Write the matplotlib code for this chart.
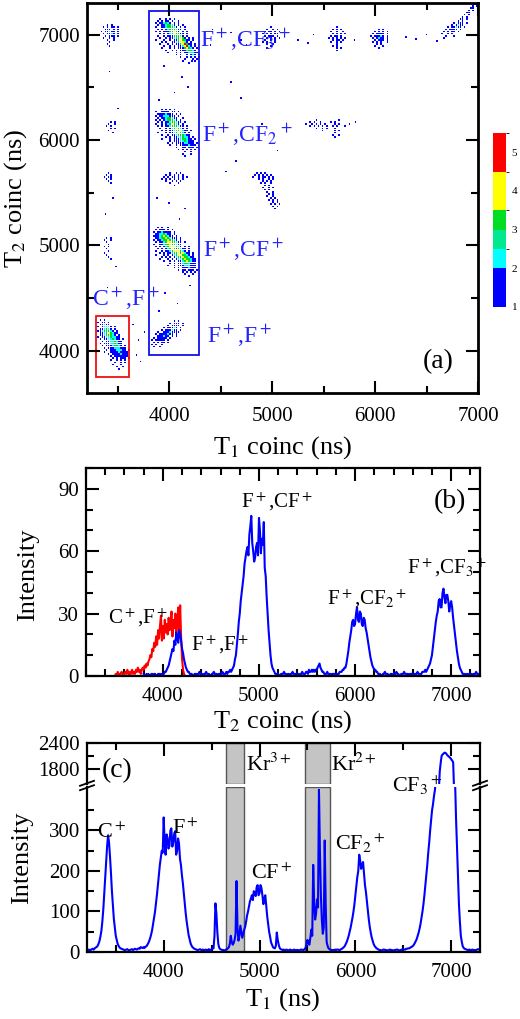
import numpy as np
import matplotlib
matplotlib.use("Agg")
import matplotlib.pyplot as plt
import matplotlib.lines as mlines
from matplotlib.colors import ListedColormap, BoundaryNorm
from matplotlib.patches import Rectangle
from matplotlib.ticker import MultipleLocator, FixedLocator
import matplotlib.colorbar as mcolorbar

plt.rcParams["font.family"] = ["Liberation Serif", "DejaVu Serif"]
plt.rcParams["mathtext.fontset"] = "stix"

W, H = 520, 1019

# ---------------- panel (a): coincidence map ----------------
# each map: top-left corner (T1, T2) in ns, 20 ns cells, '.' empty, digit = counts
MAP_BIN = 20
map_F_CF3 = (3860, 7160, [
    "..1..1.1.1",
    ".1.1.11.1..1",
    "1.112321.1.1",
    ".1.1123321.1.1",
    "1..11233321.1.1",
    ".1.1.12333211.1",
    "1.1.11133431.1.1",
    "..1.1.12343311.1",
    ".1..1.11133321.1",
    "..1..1.11233431.1.1",
    "1...1..1.11343311.1",
    "...1.1..11234421.1",
    "..1...1.1.11345311.1",
    "....1..1.1.1124521.1",
    "...1...1.1.11134321.1",
    ".....1..1.1.11123321",
    "......1...1.1.1122211",
    "..........1.1..1.121.1",
    "............1..1.1.1.1",
    "..............1...1.1",
    ".............1.....1.",
    "................1",
])
map_F_CF2 = (3860, 6300, [
    "...1.1.1.1",
    "1..1111.11.1",
    ".11112111.1.1",
    "1.11222111.1",
    ".1.11233211..1",
    "1.1.1233321.1",
    ".1.1.11233211.1",
    "1..1.1234321.1",
    ".1.1.112333211.1",
    "..1..1.1234321.1",
    "...1.1.112334211.1",
    ".1...1.11234321.1",
    "...1..1.112333211",
    ".....1.1.11223221.1",
    "...1...1.111233211.1",
    ".......1.1112232111",
    "......1.1.111122111.1",
    ".......1..1.11112111",
    "..........1..11.111.1",
    "...........1.1.1.1.1",
    "..............1..1",
    ".............1...1",
    "..............1",
])
map_F_CF = (3840, 5180, [
    "..1.1..1",
    ".1.111.1.1",
    "1.1121111.1",
    ".11223211.1",
    "1112343211.1",
    ".11233432111.1",
    "1.1123343321.1",
    ".1.11234433211.1",
    "1..11233433211",
    ".1.1.123444321.1.1",
    "..1.1.1234353211.1",
    ".1..1.1123444321.1",
    "...1.1.11233434211.1",
    ".1...1.1.123443321.1",
    "....1.1.1.1233433211",
    "...1...1.1.1223433211",
    ".....1..1.1.112343211",
    "........1.1.112332111",
    ".......1..1.111222111",
    "..........1.1.1112111",
    "............1.11.111.1",
    "..............1.1.1.1",
    "...............1...1",
    ".................1",
])
map_F_F = (3820, 4290, [
    "...........1.1",
    ".........1.111.1",
    "........1.1111.1",
    "......1.11121.1",
    ".....1.111211.1",
    "...1..11121111",
    "..1.1111211.1",
    "...111211.1.1",
    ".1.11111.1",
    "1.11111.1",
    ".1.1.11.1",
    "1.1..1",
    ".1..1",
])
map_C_F = (3300, 4300, [
    ".1.1",
    "1.11.1",
    ".11211",
    "1.12221.1",
    ".112321.1",
    "11233321.1",
    ".112343211",
    ".11233321.1",
    "1.112232211",
    ".1.11223211.1",
    "..1.11223211",
    ".1.111223211",
    "..1.11123321.1",
    "...1.111222111",
    "....1.11122211.1",
    "...1..111121111",
    ".....1.11112111",
    "......1.1111111",
    ".......1.1.111.1",
    "......1..1.1.1",
    "........1..1.1",
    ".......1...1",
    ".........1..1",
    "..........1",
])
map_sp1 = (3330, 7100, [
    "...1.1...", ".1.1.11.1", "..111.1.1", "1.11211.1.", ".1.1121.1",
    "..1.111.1", ".1..1.1..", "...1..1.", "....1....", "...1.....", "....1....",
])
map_sp2 = (4900, 7080, [
    "....1....", "..1..1.1.", ".1.11.1.1", "1.1.1.11.", ".1.111.1.",
    "..1.1.1.1", ".1..1.1..", "1.1...1..", "..1..1...", "....1....", "..1......",
])
map_sp3 = (5540, 7080, [
    "....1....", "..1.1.1..", ".1..1..1.", "..1.1.1.1", ".1.11.1..", "1.1.1.1.1",
    "..1.11.1.", ".1..1.1..", "....1....", "..1.1....", "....1.1..", "....1....",
])
map_sp4 = (5950, 7060, [
    "....1.1...", "..1.1.1.1.", ".1.1111.1.", "1.11121.1.", ".1.1211.1.",
    "..1.111.1.", ".1.1.1..1.", "...1.1....", "..1...1...", "....1.....",
])
map_sp5 = (6640, 7300, [
    "................11", "...............1.1", "..............11.", ".............1.1",
    "............11", "...........1.1", "..........1.1", ".........11.1",
    "........1.1", "......1.111.1", ".....1.1211", "...1.11211.1",
    "..1.1111.1", ".1.1.11.1", "1..1.1", "..1...1", ".1",
])
map_sp6 = (3360, 5700, ["..1..", ".1.1.", "1.11.", ".1.1.", "..1..", "...1."])
map_sp7 = (3920, 5700, [
    "....1..1.1...", "..1.1.1.1.1..", ".1.1.11.1.1.1", "1.1.1.1.1.1..",
    "..1..1.1.1...", "....1...1....", "......1......",
])
map_sp8 = (4800, 5700, [
    "..1.1.1.........", ".1.1.1.1.1......", "1..1.11.1.1.....", "...1.1..1.1.....",
    ".....1.1.1......", "....1.1..1......", "......1.1.......", ".....1..1.1.....",
    "......1.1.......", ".......1..1.....", "........1.1.....", ".......1..1.....",
    ".........1.1....", "........1.1.1...", "..........1.1...", ".........1.1.1..",
    "..........1.1...", "...........1....",
])
map_sp9 = (5300, 6200, [
    "......1..........1.......", "...1.1..1....1.1.........1",
    ".1..1.1.1.1....1.1....1...", "...1.1.1.1.1..1.1...1.....",
    "......1..1.1...1..........", ".........1.....1.1........",
    "...............1..........", "..............1..1........", "...............1..........",
])
map_sp10 = (3380, 6180, ["..1.1", ".1..1", "1.1..", "..1.1", ".1...", "...1."])
map_sp11 = (3360, 5080, [".1.1", "1..1", ".1..", "..1.", "1.1.", ".1..", "..1.",
                         "1...", ".1..", "..1.", "...1"])
all_maps = [map_F_CF3, map_F_CF2, map_F_CF, map_F_F, map_C_F, map_sp1, map_sp2, map_sp3,
            map_sp4, map_sp5, map_sp6, map_sp7, map_sp8, map_sp9, map_sp10, map_sp11]

# isolated single counts (T1, T2)
single_t1 = [3950, 4120, 4050, 3900, 4180, 4220, 4000, 4150, 3880, 4100, 3960, 4080, 4200,
             3900, 3700, 3720, 3650, 3760, 3680, 4400, 4700, 4600, 4750, 4420, 5250, 5400,
             5350, 5800, 6300, 6400, 6500, 6600, 4600, 4700, 4550, 4650, 5050, 4900, 3420,
             3500, 3380, 3450, 3480, 3400]
single_t2 = [6700, 6600, 6450, 6380, 6500, 6750, 5400, 5350, 5450, 5250, 4550, 4450, 4620,
             4380, 4100, 3900, 4250, 4180, 3960, 6900, 6950, 7020, 6900, 7050, 6950, 7000,
             6920, 6950, 6980, 6960, 7000, 6940, 6550, 6400, 5700, 5800, 5900, 6150, 6650,
             6300, 5300, 5450, 4800, 4600]

cbar_bounds = [1, 2, 2.5, 3, 3.5, 4.5, 5.5]
cbar_colors = ["#0000ff", "#00ffff", "#00e890", "#00dd22", "#ffff00", "#ff0000"]

# ---------------- panel (b): T2 spectra in coincidence (10 ns bins) ----------------
t2_red = np.arange(3500, 4231, 10)
red_counts = [0, 1, 0, 2, 1, 0, 1, 2, 1, 0,
              1, 2, 1, 3, 1, 2, 0, 2, 3, 1,
              2, 1, 3, 2, 4, 2, 3, 1, 3, 4,
              3, 5, 4, 6, 5, 7, 8, 10, 9, 13,
              12, 16, 14, 19, 15, 22, 18, 24, 29, 17,
              24, 18, 27, 21, 25, 20, 28, 22, 26, 31,
              19, 27, 23, 30, 21, 26, 33, 22, 34, 18,
              8, 3, 1, 0]
t2_blue = np.arange(3800, 7301, 10)
blue_counts = [1, 0, 0, 1, 0, 1, 0, 0, 1, 1, 0, 1, 1, 0, 0, 1, 1, 1, 0, 1,
               1, 1, 2, 2, 3, 4, 5, 7, 9, 11, 13, 12, 17, 15, 21, 18, 16, 22, 20, 17,
               13, 11, 8, 6, 4, 3, 2, 2, 1, 1, 1, 0, 0, 1, 1, 1, 0, 1, 2, 1,
               1, 1, 0, 1, 1, 2, 1, 1, 1, 0, 0, 1, 1, 2, 1, 1, 1, 0, 1, 1,
               1, 1, 2, 1, 1, 1, 2, 1, 2, 2, 3, 2, 3, 4, 5, 8, 10, 15, 20, 26,
               30, 36, 40, 44, 48, 54, 57, 60, 62, 58, 68, 72, 77, 64, 60, 55, 57, 62, 64, 58,
               76, 70, 59, 66, 63, 74, 52, 48, 38, 30, 22, 16, 10, 6, 4, 3, 2, 1, 1, 1,
               1, 0, 0, 1, 1, 1, 2, 1, 1, 0, 1, 1, 0, 1, 1, 2, 1, 1, 1, 0,
               1, 1, 0, 1, 1, 2, 1, 1, 1, 2, 2, 1, 3, 2, 2, 3, 2, 3, 2, 3,
               3, 4, 5, 6, 4, 3, 2, 2, 1, 1, 1, 2, 1, 1, 1, 0, 1, 1, 1, 1,
               0, 1, 1, 1, 2, 2, 2, 3, 3, 4, 4, 6, 9, 12, 16, 19, 22, 26, 27, 24,
               25, 30, 33, 27, 26, 31, 30, 25, 24, 28, 27, 23, 21, 18, 15, 12, 9, 7, 5, 4,
               3, 3, 2, 2, 1, 1, 1, 0, 0, 1, 1, 2, 1, 1, 1, 0, 0, 1, 1, 0,
               1, 1, 1, 2, 1, 1, 0, 0, 1, 1, 1, 2, 1, 1, 1, 1, 0, 1, 1, 1,
               0, 1, 1, 1, 1, 2, 1, 1, 1, 1, 2, 2, 2, 3, 2, 3, 4, 5, 6, 8,
               10, 14, 18, 22, 26, 29, 31, 36, 37, 33, 33, 40, 42, 38, 35, 39, 39, 36, 31, 34,
               36, 33, 28, 24, 20, 16, 12, 9, 6, 4, 3, 2, 1, 1, 1, 0, 1, 1, 0, 1,
               1, 1, 0, 1, 1, 1, 2, 1, 1, 1, 0]

# ---------------- panel (c): T1 spectrum (10 ns bins) ----------------
t1 = np.arange(3200, 7301, 10)
t1_counts = [4, 5, 6, 4, 5, 7, 8, 6, 9, 11, 12, 15, 20, 27, 38, 52, 75, 105, 145, 185,
             225, 262, 288, 270, 235, 195, 150, 115, 82, 60, 40, 30, 20, 15, 11, 9, 8, 7, 6, 5,
             5, 6, 7, 5, 4, 5, 6, 7, 5, 6, 8, 7, 6, 8, 9, 8, 12, 11, 10, 12,
             10, 13, 14, 18, 22, 28, 35, 44, 55, 70, 85, 100, 120, 142, 165, 190, 215, 232, 250, 245,
             332, 270, 240, 290, 282, 255, 262, 300, 305, 260, 270, 292, 298, 240, 250, 280, 268, 230, 215, 190,
             170, 145, 120, 95, 75, 58, 42, 32, 22, 16, 12, 10, 8, 7, 6, 5, 5, 6, 7, 5,
             5, 6, 4, 5, 6, 4, 5, 7, 4, 6, 6, 8, 9, 40, 120, 95, 48, 20, 10, 7,
             6, 5, 5, 4, 4, 6, 7, 9, 12, 20, 40, 25, 18, 22, 30, 45, 175, 60, 28, 40,
             65, 50, 35, 45, 55, 62, 75, 90, 100, 112, 125, 132, 140, 128, 150, 145, 138, 160, 165, 140,
             145, 165, 158, 140, 118, 132, 140, 115, 88, 70, 50, 38, 24, 18, 12, 10, 9, 15, 48, 30,
             18, 10, 7, 6, 5, 6, 4, 5, 6, 5, 4, 5, 6, 5, 3, 4, 6, 5, 4, 5,
             5, 4, 4, 6, 6, 5, 5, 7, 10, 18, 30, 22, 18, 35, 55, 40, 215, 120, 80, 95,
             130, 110, 400, 250, 140, 80, 45, 60, 275, 120, 25, 15, 9, 7, 6, 5, 4, 5, 5, 6,
             5, 6, 6, 5, 5, 7, 8, 10, 12, 15, 20, 25, 32, 40, 50, 60, 72, 85, 100, 118,
             140, 160, 185, 200, 240, 225, 205, 215, 222, 195, 165, 148, 125, 100, 80, 62, 48, 36, 28, 20,
             15, 12, 9, 8, 6, 5, 5, 4, 4, 6, 6, 5, 5, 4, 4, 5, 6, 5, 5, 4,
             4, 5, 5, 6, 6, 4, 4, 5, 5, 7, 7, 6, 6, 8, 8, 9, 9, 10, 12, 13,
             15, 18, 22, 27, 32, 40, 48, 58, 70, 85, 100, 118, 140, 165, 190, 215, 245, 270, 300, 325,
             350, 365, 385, 400, 430, 600, 950, 1300, 1750, 1950, 2110, 2140, 2160, 2180, 2175, 2150, 2120, 2100, 2080, 2060,
             2030, 2000, 1960, 1300, 420, 330, 260, 190, 120, 75, 40, 25, 14, 10, 8, 7, 6, 5, 5, 6,
             4, 5, 6, 5, 5, 4, 5, 6, 7, 6, 5]
kr_bands = [(4650, 4840, "Kr$^{3+}$"), (5475, 5733, "Kr$^{2+}$")]


def axrect(l, t, r, b):
    return [l / W, 1 - b / H, (r - l) / W, (b - t) / H]


def style(ax, xmaj, xmin, ymaj, ymin, lw=1.6, xpad=8, ypad=5):
    ax.xaxis.set_major_locator(MultipleLocator(xmaj))
    ax.xaxis.set_minor_locator(MultipleLocator(xmin))
    ax.yaxis.set_major_locator(ymaj if not np.isscalar(ymaj) else MultipleLocator(ymaj))
    ax.yaxis.set_minor_locator(ymin if not np.isscalar(ymin) else MultipleLocator(ymin))
    ax.tick_params(which="both", direction="in", top=True, right=True, width=1.5, labelsize=15)
    ax.tick_params(which="major", length=9)
    ax.tick_params(which="minor", length=5)
    ax.tick_params(axis="x", pad=xpad)
    ax.tick_params(axis="y", pad=ypad)
    for s in ax.spines.values():
        s.set_linewidth(lw)


def ftext(px, py, s, **kw):
    fig.text(px / W, 1 - py / H, s, **kw)


fig = plt.figure(figsize=(W / 100, H / 100), dpi=100)

# ---- (a)
ax_a = fig.add_axes(axrect(87, 3, 478, 393))
cmap = ListedColormap(cbar_colors)
norm = BoundaryNorm(cbar_bounds, cmap.N)
xs, ys, cs = [], [], []
for x0, y0, rows in all_maps:
    for r, row in enumerate(rows):
        for c, ch in enumerate(row):
            if ch.isdigit():
                xs.append(x0 + c * MAP_BIN + MAP_BIN / 2)
                ys.append(y0 - r * MAP_BIN - MAP_BIN / 2)
                cs.append(int(ch))
xs += single_t1
ys += single_t2
cs += [1] * len(single_t1)
order = np.argsort(cs, kind="stable")
ax_a.scatter(np.array(xs)[order], np.array(ys)[order], c=np.array(cs)[order], cmap=cmap,
             norm=norm, marker="s", s=1.5, linewidths=0)
ax_a.add_patch(Rectangle((3800, 3960), 490, 3265, fill=False, ec="#1010ee", lw=1.3))
ax_a.add_patch(Rectangle((3290, 3750), 318, 580, fill=False, ec="#ee1010", lw=1.3))
ax_a.set_xlim(3200, 7000)
ax_a.set_ylim(3600, 7300)
style(ax_a, 1000, 500, 1000, 500, lw=2.0, xpad=10)
acol = "#2222ff"
ax_a.text(4300, 6950, "F$^+$,CF$_3$$^+$", color=acol, fontsize=17, va="center")
ax_a.text(4320, 6050, "F$^+$,CF$_2$$^+$", color=acol, fontsize=17, va="center")
ax_a.text(4330, 4960, "F$^+$,CF$^+$", color=acol, fontsize=17, va="center")
ax_a.text(3250, 4490, "C$^+$,F$^+$", color=acol, fontsize=17, va="center")
ax_a.text(4370, 4140, "F$^+$,F$^+$", color=acol, fontsize=17, va="center")
ax_a.text(6760, 3900, "(a)", fontsize=20, ha="right", va="center")

cax = fig.add_axes(axrect(493, 133, 506, 307))
cb = mcolorbar.ColorbarBase(cax, cmap=cmap, norm=norm, boundaries=cbar_bounds,
                            ticks=[1, 2, 3, 4, 5], spacing="proportional")
cb.outline.set_visible(False)
cax.tick_params(length=0, labelsize=8, pad=4)

ftext(16, 198, "T$_2$ coinc (ns)", fontsize=19, rotation=90, ha="center", va="center")
ftext(283, 448, "T$_1$ coinc (ns)", fontsize=19, ha="center", va="center")

# ---- (b)
ax_b = fig.add_axes(axrect(86, 468, 480, 676))
ax_b.plot(t2_red, red_counts, color="#ff0000", lw=1.5)
ax_b.plot(t2_blue, blue_counts, color="#0000ff", lw=1.5)
ax_b.set_xlim(3200, 7300)
ax_b.set_ylim(0, 100)
style(ax_b, 1000, 200, 30, 10)
ax_b.text(7160, 84, "(b)", fontsize=20, ha="right", va="center")
ax_b.text(4810, 84, "F$^+$,CF$^+$", fontsize=15, va="center")
ax_b.text(3430, 28, "C$^+$,F$^+$", fontsize=15, va="center")
ax_b.text(4290, 15, "F$^+$,F$^+$", fontsize=15, va="center")
ax_b.text(5710, 37, "F$^+$,CF$_2$$^+$", fontsize=15, va="center")
ax_b.text(6540, 52, "F$^+$,CF$_3$$^+$", fontsize=15, va="center")
ftext(28, 575, "Intensity", fontsize=19, rotation=90, ha="center", va="center")
ftext(283, 722, "T$_2$ coinc (ns)", fontsize=19, ha="center", va="center")

# ---- (c) broken y axis
ax_cu = fig.add_axes(axrect(87, 743, 480, 784))
ax_cl = fig.add_axes(axrect(87, 787, 480, 952))
for ax in (ax_cu, ax_cl):
    for lo, hi, _ in kr_bands:
        ax.axvspan(lo, hi, facecolor="#c4c4c4", edgecolor="#555555", lw=1.0)
    ax.plot(t1, t1_counts, color="#0000ff", lw=1.5)
    ax.set_xlim(3200, 7300)
ax_cu.set_ylim(1467, 2400)
ax_cl.set_ylim(0, 407)
style(ax_cu, 1000, 500, FixedLocator([1800, 2400]), FixedLocator([2100]))
style(ax_cl, 1000, 500, FixedLocator([0, 100, 200, 300]), FixedLocator([50, 150, 250, 350]))
ax_cu.spines["bottom"].set_visible(False)
ax_cl.spines["top"].set_visible(False)
ax_cu.tick_params(which="both", bottom=False, labelbottom=False)
ax_cl.tick_params(which="both", top=False)
for px in (87, 480):
    for dy in (-2.2, 2.2):
        yc = 785.5 + dy
        fig.add_artist(mlines.Line2D([(px - 7) / W, (px + 7) / W],
                                     [1 - (yc + 2.5) / H, 1 - (yc - 2.5) / H],
                                     transform=fig.transFigure, color="k", lw=1.3))
ax_cu.text(3355, 1780, "(c)", fontsize=20, va="center")
for lo, hi, lab in kr_bands:
    ax_cu.text(hi + 15, 1910, lab, fontsize=16, va="center")
ax_cl.text(6385, 412, "CF$_3$$^+$", fontsize=16, va="center", clip_on=False)
ax_cl.text(3303, 295, "C$^+$", fontsize=16, va="center")
ax_cl.text(4089, 305, "F$^+$", fontsize=16, va="center")
ax_cl.text(4906, 193, "CF$^+$", fontsize=16, va="center")
ax_cl.text(5785, 268, "CF$_2$$^+$", fontsize=16, va="center")
ftext(22, 858, "Intensity", fontsize=19, rotation=90, ha="center", va="center")
ftext(283, 1000, "T$_1$ (ns)", fontsize=19, ha="center", va="center")

fig.savefig("out.png", dpi=100)
